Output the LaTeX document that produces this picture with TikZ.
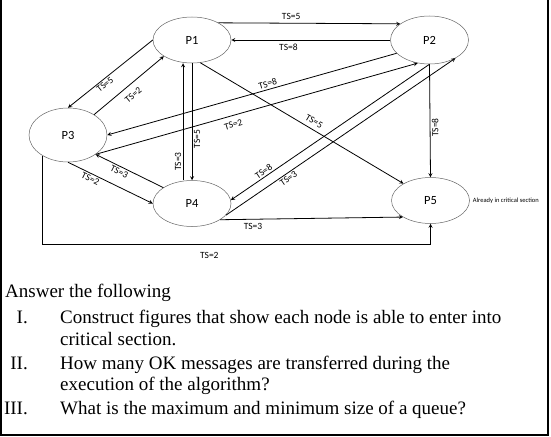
\documentclass[tikz,border=0pt]{standalone}
\usepackage{fontspec}
\setmainfont{Liberation Serif}
\newfontfamily\calibri{Carlito}
\usepackage{tikz}
\usetikzlibrary{shapes.geometric, arrows, positioning, calc}
\tikzstyle{proc} = [ellipse, minimum width=78pt, minimum height=46pt, draw=gray!80!black, line width=0.5pt, font=\calibri\fontsize{12.5}{14}\selectfont]
\tikzstyle{msg} = [line width=0.8pt, ->, >=stealth]
\tikzstyle{ts} = [font=\calibri\fontsize{9.5}{11}\selectfont, inner sep=1.5pt]
\tikzstyle{question} = [anchor=base west, inner sep=0pt, font=\fontsize{19}{21}\selectfont]
\tikzstyle{numeral} = [anchor=base east, inner sep=0pt, font=\fontsize{19}{21}\selectfont]

\begin{document}
\begin{tikzpicture}[x=1pt, y=-1pt]
    \useasboundingbox (0,0) rectangle (551,436);
    % outer frame
    \draw [line width=1.6pt] (0.8,0) -- (0.8,435) -- (548.2,435) -- (548.2,0);

    % === PROCESSES ===
    \node (p1) [proc] at (192,40) {P1};
    \node (p2) [proc, minimum height=48pt, right=159pt of p1] {P2};
    \node (p3) [proc, minimum height=54pt] at (68,135) {P3};
    \node (p4) [proc, below=117pt of p1] {P4};
    \node (p5) [proc, right=160pt of p4, yshift=3pt] {P5};
    \node (cs) [right=3pt of p5, font=\calibri\fontsize{6.5}{7.5}\selectfont, inner sep=0pt] {Already in critical section};

    % === REQUESTS OF P1 (TS=5) ===
    \draw [msg] (p1.33) -- node[ts, pos=0.4, above=2pt] {TS=5} (p2.151);
    \draw [msg] (p1.west) -- node[ts, pos=0.6, sloped, below] {TS=5} (p3.north);
    \draw [msg] (p1.south) -- node[ts, pos=0.65, rotate=90, below] {TS=5} (p4.north);
    \draw [msg] (p1.290) -- node[ts, pos=0.54, sloped, above=3pt] {TS=5} (p5.148);

    % === REQUESTS OF P2 (TS=8) ===
    \draw [msg] (p2.west) -- node[ts, pos=0.64, below=2pt] {TS=8} (p1.east);
    \draw [msg] (p2.202) -- node[ts, pos=0.44, sloped, above, inner sep=2pt] {TS=8} (p3.east);
    \draw [msg] (p2.south) -- node[ts, pos=0.82, sloped, above] {TS=8} (p4.5);
    \draw [msg] (p2.south) -- node[ts, pos=0.56, rotate=90, below] {TS=8} (p5.north);

    % === REQUESTS OF P3 (TS=2) ===
    \draw [msg] (p3.38) -- node[ts, pos=0.47, sloped, below=5pt] {TS=2} (p1.210);
    \draw [msg] (p3.325) -- node[ts, pos=0.42, sloped, below=4pt] {TS=2} (p2.243);
    \draw [msg] (p3.south) -- node[ts, pos=0.29, sloped, below] {TS=2} (p4.west);
    \draw [msg] (p3.219) |- node[ts, pos=0.715, below=6pt] {TS=2} ([yshift=-21pt]p5.south) -- (p5.south);

    % === REQUESTS OF P4 (TS=3) ===
    \draw [msg] ([xshift=-9pt]p4.north) -- node[ts, pos=0.16, rotate=90, above] {TS=3} ([xshift=-9pt]p1.south);
    \draw [msg] (p4.151) -- node[ts, pos=0.62, sloped, below] {TS=3} (p3.325);
    \draw [msg] (p4.341) -- node[ts, pos=0.26, sloped, below] {TS=3} (p2.325);
    \draw [msg] (p4.330) -- node[ts, pos=0.18, below=2pt] {TS=3} (p5.211);

    % === QUESTIONS ===
    \node (q0) [question] at (5,297) {Answer the following};
    \node (n1) [numeral] at (28,323) {I.};
    \node (q1) [question] at (60,323) {Construct figures that show each node is able to enter into};
    \node (q1b) [question] at (60,345) {critical section.};
    \node (n2) [numeral] at (28,369) {II.};
    \node (q2) [question] at (60,369) {How many OK messages are transferred during the};
    \node (q2b) [question] at (60,390) {execution of the algorithm?};
    \node (n3) [numeral] at (28,414) {III.};
    \node (q3) [question] at (60,414) {What is the maximum and minimum size of a queue?};
\end{tikzpicture}
\end{document}
